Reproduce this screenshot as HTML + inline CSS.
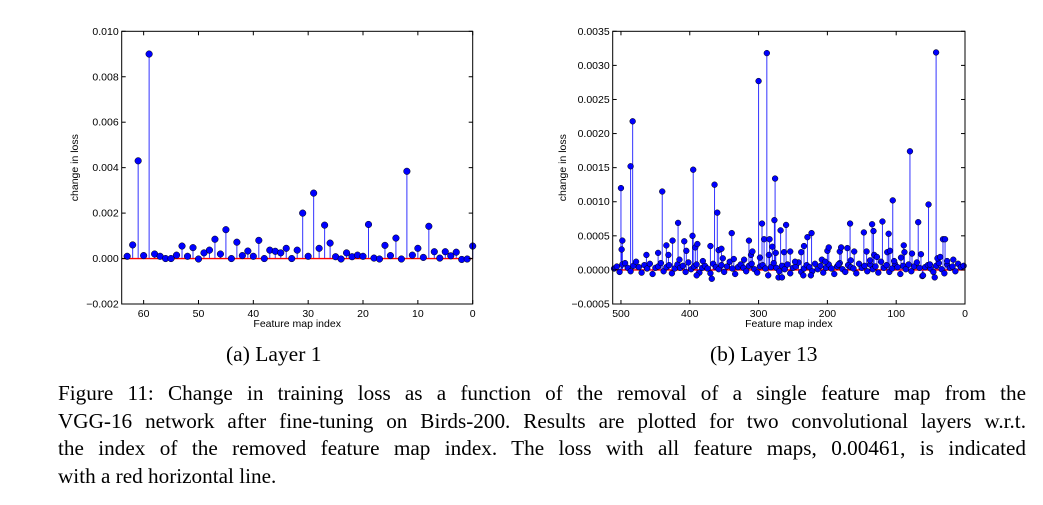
<!DOCTYPE html>
<html><head><meta charset="utf-8"><style>
body{margin:0;background:#fff;width:1043px;height:505px;overflow:hidden;font-family:"Liberation Sans",sans-serif}
svg{position:absolute;left:0;top:0}
.cap{position:absolute;font-family:"Liberation Serif",serif;color:#000;white-space:nowrap}
#caption{left:58px;top:380px;width:968px;font-size:21.2px;line-height:27.7px;white-space:normal}
#caption .ln{display:block;text-align:justify;text-align-last:justify;white-space:nowrap}
#caption .last{display:block;text-align:left}
</style></head><body>
<svg id="chart" width="1043" height="505" xmlns="http://www.w3.org/2000/svg"></svg>
<div class="cap" style="left:226px;top:342px;font-size:21.5px">(a) Layer 1</div>
<div class="cap" style="left:710px;top:342px;font-size:21.5px">(b) Layer 13</div>
<div class="cap" id="caption"><span class="ln">Figure 11: Change in training loss as a function of the removal of a single feature map from the</span><span class="ln">VGG-16 network after fine-tuning on Birds-200. Results are plotted for two convolutional layers w.r.t.</span><span class="ln">the index of the removed feature map index. The loss with all feature maps, 0.00461, is indicated</span><span class="last">with a red horizontal line.</span></div>
<script>
const leftIdx=[63,62,61,60,59,58,57,56,55,54,53,52,51,50,49,48,47,46,45,44,43,42,41,40,39,38,37,36,35,34,33,32,31,30,29,28,27,26,25,24,23,22,21,20,19,18,17,16,15,14,13,12,11,10,9,8,7,6,5,4,3,2,1,0];
const leftVals=[0.0001,0.0006,0.0043,0.00013,0.009,0.0002,0.0001,0.0,0.0,0.00015,0.00055,0.0001,0.00048,-0.00002,0.00025,0.00037,0.00085,0.0002,0.00127,0.0,0.00072,0.00013,0.00033,0.0001,0.0008,0.0,0.00037,0.00032,0.00025,0.00045,0.0,0.00037,0.002,0.0001,0.00288,0.00045,0.00147,0.00068,0.00008,-0.00002,0.00025,0.00008,0.00015,0.0001,0.0015,0.00002,-0.00002,0.00058,0.00013,0.0009,-0.00002,0.00384,0.00015,0.00045,0.00005,0.00142,0.0003,0.00002,0.0003,0.00012,0.00028,-0.00004,-0.00002,0.00055];
const leftXTicks=[60,50,40,30,20,10,0];
const leftYTicks=[-0.002,0.000,0.002,0.004,0.006,0.008,0.010];
const rightIdx=[500,499,498,486,483,463,446,440,434,431,425,417,415,408,405,396,395,392,389,390,381,370,368,364,360,358,354,352,339,336,321,314,311,309,300,298,295,292,288,285,284,280,277,276,275,271,268,266,263,260,254,247,238,235,234,229,224,223,208,203,200,198,184,182,180,171,167,166,161,147,143,138,135,133,132,128,120,113,111,109,105,103,93,89,88,80,77,68,64,61,53,51,44,42,40,36,32,29,26,17];
const rightVals=[0.0012,0.0003,0.00043,0.00152,0.00218,0.00022,0.00025,0.00115,0.00036,0.00022,0.00043,0.00069,0.00015,0.00042,0.00028,0.0005,0.00147,0.00033,0.00038,-0.00008,0.00013,0.00035,-0.00013,0.00125,0.00084,0.00029,0.00031,0.00017,0.00054,0.00016,0.00015,0.00043,0.00022,0.00027,0.00277,0.00018,0.00068,0.00045,0.00318,0.00022,0.00045,0.00034,0.00073,0.00134,0.00025,-0.00011,0.00058,-0.00011,0.00026,0.00066,0.00027,0.00012,0.00026,-0.00008,0.00035,0.00048,-0.00008,0.00054,0.00015,0.00012,0.00028,0.00033,0.00008,0.00027,0.00033,0.00032,0.00068,0.00014,0.00027,0.00055,0.00027,0.00014,0.00067,0.00057,0.00022,0.00019,0.00071,0.00026,0.00053,0.00028,0.00102,0.00013,0.00018,0.00036,0.00026,0.00174,0.00024,0.0007,0.00023,-0.00008,0.00096,0.00008,-0.00011,0.00319,0.00017,0.00019,0.00045,0.00045,0.00013,0.00015];
// baseline values at indices 510,506,...,2
const rightBase=[0.00002,0.00005,-0.00003,0.00008,0.0001,0.00003,-0.00002,0.00006,0.00012,0.00004,-0.00004,0.00007,0.00002,0.00009,-0.00006,0.00003,0.00005,0.0001,-0.00002,0.00004,0.00007,-0.00005,0.00002,0.00008,0.00003,0.00006,-0.00003,0.00011,0.00001,0.00005,0.00008,-0.00004,0.00003,0.00006,0.00002,-0.00005,0.00009,0.00004,0.00001,0.00007,-0.00003,0.00005,0.00012,0.00002,-0.00006,0.00004,0.00008,0.00003,-0.00002,0.00006,0.00009,0.00001,-0.00004,0.00005,0.00007,0.00002,-0.00008,0.00004,0.0001,0.00003,-0.00002,0.00006,0.00001,0.00008,-0.00005,0.00003,0.00005,0.00011,-0.00003,0.00002,0.00007,0.00004,-0.00002,0.00009,0.00001,0.00006,-0.00004,0.00003,0.00008,0.00002,-0.00006,0.00005,0.0001,0.00001,-0.00003,0.00007,0.00004,0.00002,-0.00005,0.00009,0.00003,0.00006,-0.00002,0.00008,0.00001,0.00005,-0.00004,0.00012,0.00003,0.00007,-0.00003,0.00002,0.00009,0.00004,-0.00006,0.00006,0.00001,0.00008,-0.00002,0.00005,0.00011,0.00003,-0.00009,0.00004,0.00007,0.00002,-0.00003,0.00006,0.0001,0.00001,-0.00005,0.00008,0.00003,0.00005,-0.00002,0.00009,0.00004,0.00006];
const rightXTicks=[500,400,300,200,100,0];
const rightYTicks=[-0.0005,0.0000,0.0005,0.0010,0.0015,0.0020,0.0025,0.0030,0.0035];

const svg=document.getElementById('chart');
const NS='http://www.w3.org/2000/svg';
function mk(tag,attrs,parent){const e=document.createElementNS(NS,tag);for(const k in attrs)e.setAttribute(k,attrs[k]);(parent||svg).appendChild(e);return e;}

function panel(name,box,xLeft,xRight,ymin,ymax,xt,yt,ydec,idx,vals,r){
  const g=mk('g',{});
  
  
  const X=v=>box.x0+(xLeft-v)/(xLeft-xRight)*(box.x1-box.x0);
  const Y=v=>box.y1-(v-ymin)/(ymax-ymin)*(box.y1-box.y0);
  for(let i=0;i<idx.length;i++){
    const s=mk('line',{x1:X(idx[i]),x2:X(idx[i]),y1:Y(0),y2:Y(vals[i]),stroke:'#0000ff','stroke-width':1,'stroke-opacity':0.8},g);
    
    
  }
  const rl=mk('line',{x1:box.x0,x2:box.x1,y1:Y(0),y2:Y(0),stroke:'#ff0000','stroke-width':1.3},g);
  
  
  for(let i=0;i<idx.length;i++){
    const c=mk('circle',{cx:X(idx[i]),cy:Y(vals[i]),r:r,fill:'#0000ff',stroke:'#000','stroke-width':0.5},g);
    
    
  }
  const fr=mk('rect',{x:box.x0,y:box.y0,width:box.x1-box.x0,height:box.y1-box.y0,fill:'none',stroke:'#000','stroke-width':1},g);
  
  
  xt.forEach(v=>{
    const x=X(v);
    mk('line',{x1:x,x2:x,y1:box.y1,y2:box.y1-4,stroke:'#000'},g);
    mk('line',{x1:x,x2:x,y1:box.y0,y2:box.y0+4,stroke:'#000'},g);
    const t=mk('text',{x:x,y:box.y1+13,'font-size':10.5,'text-anchor':'middle'},g);
    t.textContent=v;
    
    
  });
  yt.forEach(v=>{
    const y=Y(v);
    mk('line',{x1:box.x0,x2:box.x0+4,y1:y,y2:y,stroke:'#000'},g);
    mk('line',{x1:box.x1,x2:box.x1-4,y1:y,y2:y,stroke:'#000'},g);
    const t=mk('text',{x:box.x0-3,y:y+3.5,'font-size':10.5,'text-anchor':'end'},g);
    t.textContent=(v<0?'\u2212':'')+Math.abs(v).toFixed(ydec);
    
    
  });
  const xl=mk('text',{x:(box.x0+box.x1)/2,y:box.y1+23,'font-size':10.5,'text-anchor':'middle'},g);
  xl.textContent='Feature map index';
  
  
  const yx=box.ylabX, yy=(box.y0+box.y1)/2;
  const yl=mk('text',{x:yx,y:yy,'font-size':10.5,'text-anchor':'middle',transform:`rotate(-90 ${yx} ${yy})`},g);
  yl.textContent='change in loss';
  
  
}
panel('layer1-chart',{x0:121.7,x1:472.7,y0:31.3,y1:304,ylabX:78},64,0,-0.002,0.010,leftXTicks,leftYTicks,3,leftIdx,leftVals,3.3);
const bIdx=rightBase.map((v,i)=>510-4*i);
panel('layer13-chart',{x0:612.7,x1:965,y0:31.3,y1:304,ylabX:566},512,0,-0.0005,0.0035,rightXTicks,rightYTicks,4,bIdx.concat(rightIdx),rightBase.concat(rightVals),2.9);
</script>
</body></html>
